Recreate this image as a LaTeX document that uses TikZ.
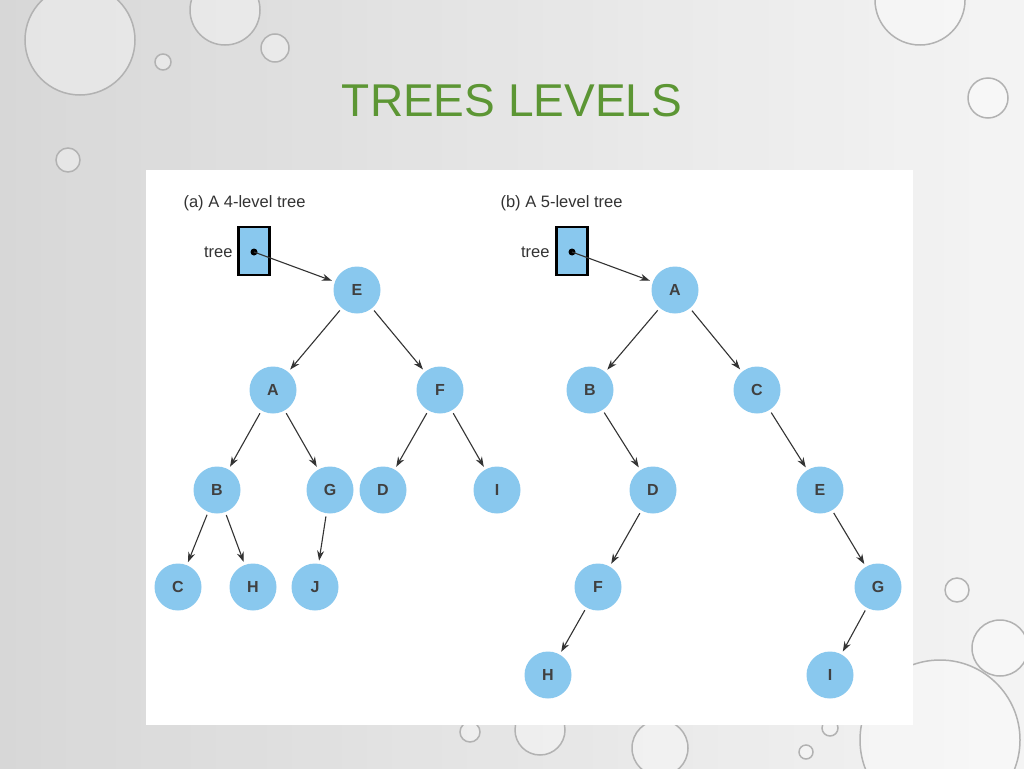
\documentclass[tikz,border=0pt]{standalone}
\usepackage{fontspec}
\setmainfont{Liberation Sans}
\usetikzlibrary{arrows.meta}
\definecolor{nodeblue}{RGB}{137,200,238}
\definecolor{titlegreen}{RGB}{92,150,52}
\tikzset{
  tn/.style={circle,fill=nodeblue,minimum size=47pt,inner sep=0pt,font=\fontsize{16}{16}\selectfont\bfseries,text=black!75},
  edge/.style={-{Stealth[length=10pt,width=7pt]},line width=1.1pt,black!80,shorten <=3pt,shorten >=3pt},
  ptr/.style={draw=black,line width=2.2pt,fill=nodeblue,minimum width=31pt,minimum height=48pt,inner sep=0pt},
  lbl/.style={font=\fontsize{16.5}{17}\selectfont,text=black!80},
  drop/.style={circle,draw=black!30,line width=1.5pt,fill=white,fill opacity=0.35},
}
\begin{document}
\begin{tikzpicture}[x=1pt,y=-1pt]
\useasboundingbox (0,0) rectangle (1024,768);
\shade[left color=black!22,right color=black!6] (0,0) rectangle (1024,768);
\shade[top color=white,bottom color=black!0,middle color=white,opacity=0.3] (0,0) rectangle (1024,768);
% drops
\draw[drop] (80,40) circle (55);
\draw[drop] (225,10) circle (35);
\draw[drop] (275,48) circle (14);
\draw[drop] (163,62) circle (8);
\draw[drop] (68,160) circle (12);
\draw[drop] (920,0) circle (45);
\draw[drop] (988,98) circle (20);
\draw[drop] (957,590) circle (12);
\draw[drop] (1000,648) circle (28);
\draw[drop] (940,740) circle (80);
\draw[drop] (660,748) circle (28);
\draw[drop] (540,730) circle (25);
\draw[drop] (470,732) circle (10);
\draw[drop] (830,728) circle (8);
\draw[drop] (806,752) circle (7);
\node[font=\fontsize{46}{46}\selectfont,text=titlegreen] (title) at (512,101) {TREES LEVELS};
\fill[white] (146,170) rectangle (913,725);
% tree a
\node[lbl,anchor=west] (la) at (180,203) {(a) A 4-level tree};
\node[lbl,anchor=east] (ta) at (236,252) {tree};
\node[ptr] (pa) at (254,251) {};
\fill (254,252) circle (3.5pt);
\coordinate (da) at (254,252);
\node[tn] (aE) at (357,290) {E};
\node[tn] (aA) at (273,390) {A};
\node[tn] (aF) at (440,390) {F};
\node[tn] (aB) at (217,490) {B};
\node[tn] (aG) at (330,490) {G};
\node[tn] (aD) at (383,490) {D};
\node[tn] (aI) at (497,490) {I};
\node[tn] (aC) at (178,587) {C};
\node[tn] (aH) at (253,587) {H};
\node[tn] (aJ) at (315,587) {J};
\draw[edge,shorten <=0pt] (da) -- (aE);
\foreach \a/\b in {aE/aA,aE/aF,aA/aB,aA/aG,aF/aD,aF/aI,aB/aC,aB/aH,aG/aJ}
  \draw[edge] (\a) -- (\b);
% tree b
\node[lbl,anchor=west] (lb) at (497,203) {(b) A 5-level tree};
\node[lbl,anchor=east] (tb) at (553,252) {tree};
\node[ptr] (pb) at (572,251) {};
\fill (572,252) circle (3.5pt);
\coordinate (db) at (572,252);
\node[tn] (bA) at (675,290) {A};
\node[tn] (bB) at (590,390) {B};
\node[tn] (bC) at (757,390) {C};
\node[tn] (bD) at (653,490) {D};
\node[tn] (bE) at (820,490) {E};
\node[tn] (bF) at (598,587) {F};
\node[tn] (bG) at (878,587) {G};
\node[tn] (bH) at (548,675) {H};
\node[tn] (bI) at (830,675) {I};
\draw[edge,shorten <=0pt] (db) -- (bA);
\foreach \a/\b in {bA/bB,bA/bC,bB/bD,bC/bE,bD/bF,bE/bG,bF/bH,bG/bI}
  \draw[edge] (\a) -- (\b);
\end{tikzpicture}
\end{document}
